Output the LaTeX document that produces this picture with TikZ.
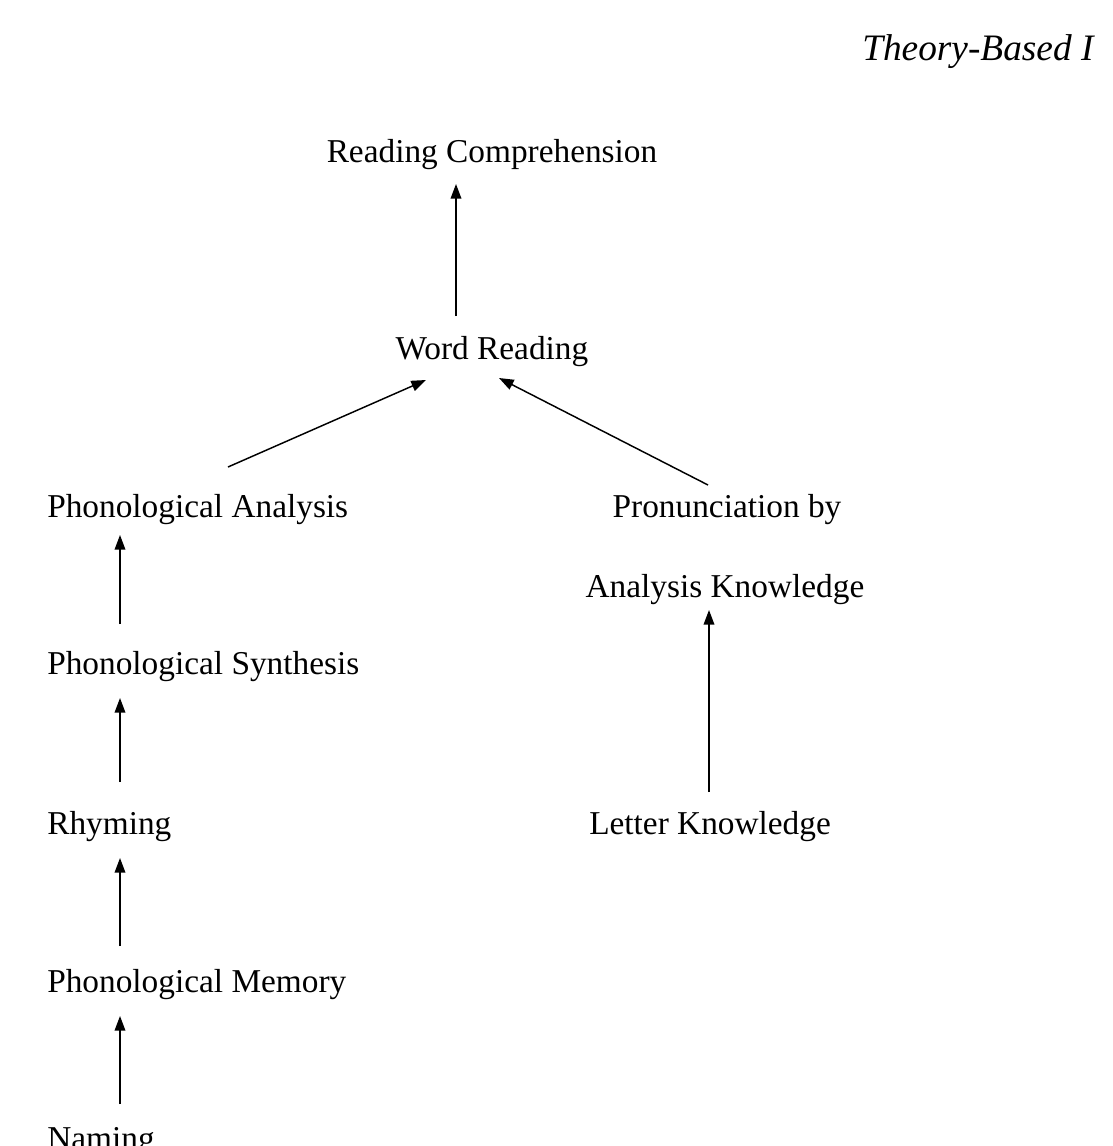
\documentclass[tikz,border=0pt]{standalone}
\usepackage{fontspec}
\setmainfont{Liberation Serif}
\usetikzlibrary{arrows.meta}
\begin{document}
\begin{tikzpicture}[x=0.75pt,y=-0.75pt,
  lbl/.style={font=\fontsize{25}{29}\selectfont, inner sep=0pt},
  arr/.style={-{Triangle[length=11pt,width=8pt]}, line width=1.1pt}]
\useasboundingbox (0,0) rectangle (1113,1146);
\clip (0,0) rectangle (1113,1146);
\node[lbl, font=\fontsize{28}{32}\selectfont\itshape, anchor=west] (t) at (862,52) {Theory-Based I};
\node[lbl] (rc) at (492,155) {Reading Comprehension};
\node[lbl] (wr) at (492,352) {Word Reading};
\node[lbl, anchor=west] (pa) at (47,510) {Phonological Analysis};
\node[lbl] (pb) at (727,510) {Pronunciation by};
\node[lbl] (ak) at (725,590) {Analysis Knowledge};
\node[lbl, anchor=west] (ps) at (47,667) {Phonological Synthesis};
\node[lbl, anchor=west] (rh) at (47,827) {Rhyming};
\node[lbl, anchor=west] (pm) at (47,985) {Phonological Memory};
\node[lbl, anchor=west] (nm) at (47,1142) {Naming};
\node[lbl, anchor=west] (lk) at (589,827) {Letter Knowledge};
\coordinate (a1s) at (456,316); \coordinate (a1e) at (456,184);
\coordinate (a2s) at (228,467); \coordinate (a2e) at (426,380);
\coordinate (a3s) at (708,485); \coordinate (a3e) at (499,378);
\coordinate (a4s) at (120,624); \coordinate (a4e) at (120,535);
\coordinate (a5s) at (120,782); \coordinate (a5e) at (120,698);
\coordinate (a6s) at (120,946); \coordinate (a6e) at (120,858);
\coordinate (a7s) at (120,1104); \coordinate (a7e) at (120,1016);
\coordinate (a8s) at (709,792); \coordinate (a8e) at (709,610);
\foreach \i in {1,...,8} \draw[arr] (a\i s) -- (a\i e);
\end{tikzpicture}
\end{document}
